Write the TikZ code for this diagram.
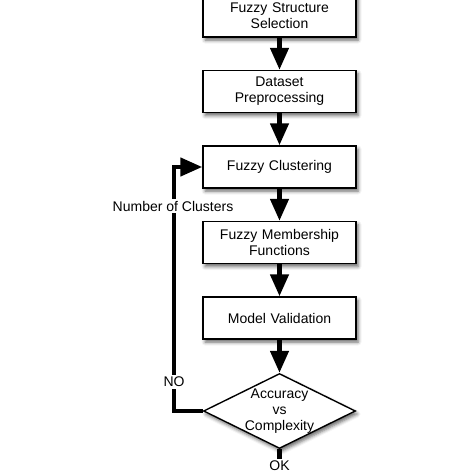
\documentclass[tikz,border=0pt]{standalone}
\usepackage{fontspec}
\setmainfont{Liberation Sans}
\usepackage{tikz}
\usetikzlibrary{arrows.meta}
\usetikzlibrary{shapes.geometric,shadows.blur}

\begin{document}
\begin{tikzpicture}[x=1pt,y=-1pt,font=\fontsize{14}{16}\selectfont,
		>={Triangle[length=22pt,width=18pt]},
		boxshadow/.style={blur shadow={shadow xshift=2pt,shadow yshift=-3pt,shadow blur radius=3.5pt,shadow opacity=60}}]
		\useasboundingbox (0,0) rectangle (474,474);

		\begin{scope}[every node/.style={rectangle,draw,line width=1.4pt,fill=white,
				minimum width=153pt,minimum height=42pt,text width=140pt,align=center,boxshadow}]
			\node (fss) at (279.5,16) {Fuzzy Structure\\Selection};
			\node (dp) at (279.5,91.5) {Dataset\\Preprocessing};
			\node (fc) at (279.5,167) {Fuzzy Clustering};
			\node (fmf) at (279.5,242.5) {Fuzzy Membership\\Functions};
			\node (mv) at (279.5,318) {Model Validation};
		\end{scope}

		\node[diamond,draw,line width=1.4pt,fill=white,minimum width=152pt,minimum height=75pt,inner sep=0pt,
			boxshadow] (acc) at (279.5,411) {};
		\node[align=center] (acctext) at (acc) {Accuracy\\vs\\Complexity};
		\node[inner sep=2pt] (ok) at (279.5,466) {OK};
		\coordinate (bend) at (174,411);

		\begin{scope}[line width=4.5pt]
			\draw[->] (fss) -- (dp);
			\draw[->] (dp) -- (fc);
			\draw[->] (fc) -- (fmf);
			\draw[->] (fmf) -- (mv);
			\draw[->] (mv) -- (acc);
			\draw (acc.south) -- (ok.north);

			\draw[->] (acc.west) -- (bend) |- (fc.west);
		\end{scope}

		\node[fill=white,inner sep=2pt] (ncl) at (173,206) {Number of Clusters};
		\node[fill=white,inner sep=2pt] (no) at (174,382) {NO};
	\end{tikzpicture}
\end{document}
